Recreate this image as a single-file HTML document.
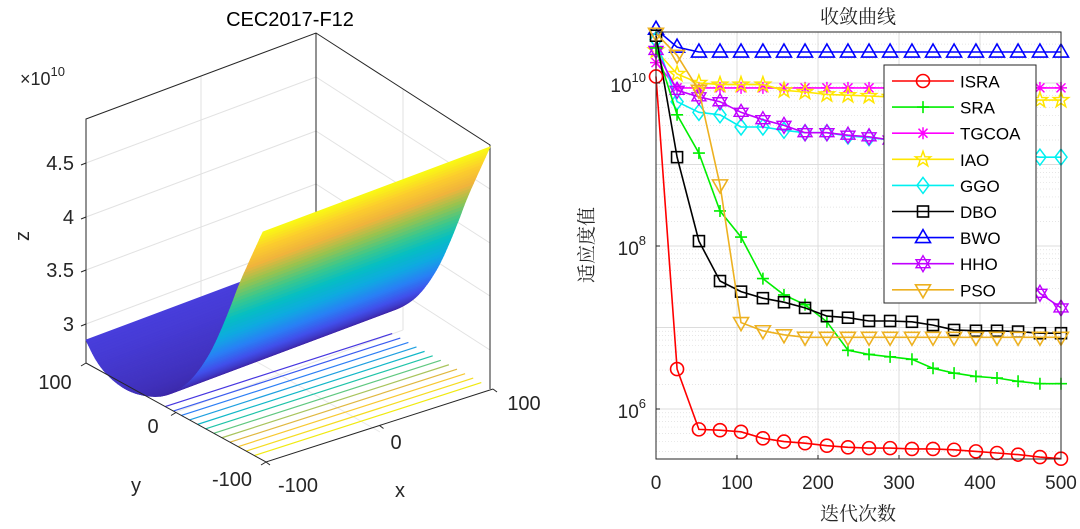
<!DOCTYPE html>
<html><head><meta charset="utf-8"><style>
body{margin:0;background:#fff;width:1080px;height:524px;overflow:hidden}
svg{font-family:"Liberation Sans","Noto Sans CJK SC",sans-serif}
</style></head><body>
<svg id="root" width="1080" height="524" viewBox="0 0 1080 524">
<g id="left"></g>
<g id="right"></g>
</svg>
<script>
const NS="http://www.w3.org/2000/svg";
function mk(parent,tag,attrs,txt){const e=document.createElementNS(NS,tag);for(const k in attrs)e.setAttribute(k,attrs[k]);if(txt!==undefined)e.textContent=txt;parent.appendChild(e);return e;}

// ===== Convergence chart data (log10 of fitness) =====
const iterations=[0,26,53,79,105,132,158,184,211,237,263,289,316,342,368,395,421,447,474,500];
const seriesNames=["ISRA","SRA","TGCOA","IAO","GGO","DBO","BWO","HHO","PSO"];
const isra=[10.08,6.49,5.75,5.74,5.72,5.64,5.60,5.58,5.55,5.53,5.52,5.52,5.51,5.51,5.50,5.48,5.46,5.44,5.41,5.39];
const sra=[10.43,9.61,9.14,8.43,8.11,7.60,7.40,7.28,7.07,6.72,6.67,6.64,6.61,6.50,6.44,6.40,6.38,6.34,6.31,6.31];
const tgcoa=[10.25,9.94,9.94,9.94,9.94,9.94,9.94,9.94,9.94,9.94,9.94,9.94,9.94,9.94,9.94,9.94,9.94,9.94,9.94,9.94];
const iao=[10.40,10.11,10.00,9.98,9.98,9.98,9.91,9.89,9.86,9.85,9.84,9.83,9.83,9.82,9.81,9.81,9.80,9.80,9.79,9.79];
const ggo=[10.53,9.77,9.64,9.61,9.46,9.46,9.42,9.39,9.39,9.35,9.33,9.30,9.27,9.24,9.21,9.18,9.15,9.12,9.09,9.09];
const dbo=[10.58,9.09,8.06,7.57,7.44,7.36,7.31,7.24,7.14,7.12,7.08,7.08,7.07,7.03,6.97,6.96,6.96,6.95,6.93,6.93];
const bwo=[10.66,10.44,10.38,10.38,10.38,10.38,10.38,10.38,10.38,10.38,10.38,10.38,10.38,10.38,10.38,10.38,10.38,10.38,10.38,10.38];
const hho=[10.40,9.91,9.83,9.77,9.64,9.55,9.48,9.39,9.39,9.36,9.34,9.30,9.20,9.00,8.70,8.40,8.10,7.80,7.42,7.24];
const pso=[10.61,10.34,9.91,8.75,7.06,6.96,6.91,6.88,6.88,6.88,6.88,6.88,6.88,6.88,6.88,6.88,6.88,6.88,6.88,6.88];
const xTicks=[0,100,200,300,400,500];
const yDecades=[6,8,10];

const R=document.getElementById('right');
const X0=656,X1=1061,Y0=32,Y1=459;
const xs=v=>X0+(v/500)*(X1-X0);
const ys=l=>83+(10-l)*81.5;
const logMin=10-(Y1-83)/81.5, logMax=10+(83-Y0)/81.5;

for(let d=5;d<=10;d++){for(let m=1;m<10;m++){const l=d+Math.log10(m);if(l<logMin||l>logMax)continue;
 const g=mk(R,'line',{x1:X0,x2:X1,y1:ys(l),y2:ys(l),stroke:m===1?'#dcdcdc':'#dedede','stroke-width':m===1?1:0.7,'stroke-dasharray':m===1?'':'1,2'});
 }}
xTicks.forEach(t=>{const g=mk(R,'line',{x1:xs(t),x2:xs(t),y1:Y0,y2:Y1,stroke:'#dcdcdc'});});

const colors={ISRA:'#ff0000',SRA:'#00ee00',TGCOA:'#ff00ff',IAO:'#ffe600',GGO:'#00f0f0',DBO:'#000000',BWO:'#0000ff',HHO:'#c000ff',PSO:'#edb120'};
const markers={ISRA:'circle',SRA:'plus',TGCOA:'asterisk',IAO:'star',GGO:'diamond',DBO:'square',BWO:'tri',HHO:'hex',PSO:'tridown'};
function marker(p,type,x,y,c){let e;
 if(type==='circle')e=mk(p,'circle',{cx:x,cy:y,r:6.5,fill:'none',stroke:c,'stroke-width':1.6});
 else if(type==='plus')e=mk(p,'path',{d:`M${x-6},${y}H${x+6}M${x},${y-6}V${y+6}`,stroke:c,'stroke-width':1.6});
 else if(type==='asterisk')e=mk(p,'path',{d:`M${x-6},${y}H${x+6}M${x},${y-6}V${y+6}M${x-4.5},${y-4.5}L${x+4.5},${y+4.5}M${x-4.5},${y+4.5}L${x+4.5},${y-4.5}`,stroke:c,'stroke-width':1.5});
 else if(type==='star'){let pts=[];for(let i=0;i<10;i++){const r=i%2?3.2:8,a=-Math.PI/2+i*Math.PI/5;pts.push((x+r*Math.cos(a)).toFixed(1)+','+(y+r*Math.sin(a)).toFixed(1));}e=mk(p,'polygon',{points:pts.join(' '),fill:'none',stroke:c,'stroke-width':1.5});}
 else if(type==='diamond')e=mk(p,'polygon',{points:`${x},${y-8} ${x+6},${y} ${x},${y+8} ${x-6},${y}`,fill:'none',stroke:c,'stroke-width':1.5});
 else if(type==='square')e=mk(p,'rect',{x:x-5.5,y:y-5.5,width:11,height:11,fill:'none',stroke:c,'stroke-width':1.6});
 else if(type==='tri')e=mk(p,'polygon',{points:`${x},${y-8} ${x+7.5},${y+5} ${x-7.5},${y+5}`,fill:'none',stroke:c,'stroke-width':1.6});
 else if(type==='tridown')e=mk(p,'polygon',{points:`${x},${y+8} ${x+7.5},${y-5} ${x-7.5},${y-5}`,fill:'none',stroke:c,'stroke-width':1.6});
 else {e=mk(p,'path',{d:`M${x},${y-8}L${x+7},${y+4}H${x-7}ZM${x},${y+8}L${x+7},${y-4}H${x-7}Z`,fill:'none',stroke:c,'stroke-width':1.4});}
 return e;}

const seriesData=[isra,sra,tgcoa,iao,ggo,dbo,bwo,hho,pso];
const order=[6,2,3,4,7,1,5,8,0];
order.forEach(si=>{const name=seriesNames[si],vals=seriesData[si],c=colors[name];
 const g=mk(R,'g',{});
 const line=mk(g,'polyline',{points:vals.map((v,i)=>xs(iterations[i]).toFixed(1)+','+ys(v).toFixed(1)).join(' '),fill:'none',stroke:c,'stroke-width':1.6});
 
 vals.forEach((v,i)=>{const m=marker(g,markers[name],xs(iterations[i]),ys(v),c);
  });
});

const box=mk(R,'rect',{x:X0,y:Y0,width:X1-X0,height:Y1-Y0,fill:'none',stroke:'#262626','stroke-width':1});

xTicks.forEach(t=>{mk(R,'line',{x1:xs(t),x2:xs(t),y1:Y1,y2:Y1-4,stroke:'#262626'});
 const tx=mk(R,'text',{x:xs(t),y:489,'text-anchor':'middle','font-size':19,fill:'#262626'},String(t));
 });
yDecades.forEach(d=>{mk(R,'line',{x1:X0,x2:X0+4,y1:ys(d),y2:ys(d),stroke:'#262626'});
 const tx=mk(R,'text',{x:X0-10,y:ys(d)+9,'text-anchor':'end','font-size':19,fill:'#262626'});
 tx.appendChild(document.createTextNode('10'));mk(tx,'tspan',{dy:-10,'font-size':13},String(d));
 });
let t=mk(R,'text',{x:858,y:23,'text-anchor':'middle','font-size':19,fill:'#262626','font-family':'"Noto Serif CJK SC",serif'},'收敛曲线');

t=mk(R,'text',{x:858,y:520,'text-anchor':'middle','font-size':19,fill:'#262626','font-family':'"Noto Serif CJK SC",serif'},'迭代次数');

t=mk(R,'text',{x:0,y:0,'text-anchor':'middle','font-size':19,fill:'#262626','font-family':'"Noto Serif CJK SC",serif',transform:'translate(593,245) rotate(-90)'},'适应度值');


const L=mk(R,'g',{});
mk(L,'rect',{x:884,y:65,width:152,height:238,fill:'#fff',stroke:'#262626','stroke-width':1});
seriesNames.forEach((n,i)=>{const y=81+i*26.1,c=colors[n];
 const eg=mk(L,'g',{});
 mk(eg,'line',{x1:892,x2:954,y1:y,y2:y,stroke:c,'stroke-width':1.6});marker(eg,markers[n],923,y,c);
 mk(eg,'text',{x:960,y:y+6.5,'font-size':17,fill:'#000'},n);});

// ===== 3D surface plot =====
const Lg=document.getElementById('left');
const gray='#262626';
t=mk(Lg,'text',{x:290,y:26,'text-anchor':'middle','font-size':20,fill:'#000'},'CEC2017-F12');

const zTickY=[324,270,217,163];const zTickLab=['3','3.5','4','4.5'];
zTickY.forEach(y=>{mk(Lg,'line',{x1:86,y1:y,x2:316,y2:y-86,stroke:'#e2e2e2'});mk(Lg,'line',{x1:316,y1:y-86,x2:490,y2:y-86+112,stroke:'#e2e2e2'});});
mk(Lg,'line',{x1:201,y1:76,x2:201,y2:330,stroke:'#e2e2e2'});
mk(Lg,'line',{x1:403,y1:89,x2:403,y2:330,stroke:'#e2e2e2'});
mk(Lg,'line',{x1:201,y1:330,x2:380,y2:432,stroke:'#e8e8e8'});
mk(Lg,'line',{x1:176,y1:412,x2:403,y2:330,stroke:'#e8e8e8'});
const be=mk(Lg,'path',{d:'M86,363V119L316,33L490,145V389M316,33V290',fill:'none',stroke:gray,'stroke-width':1});

const contourCols=['#4636e0','#3a5cf0','#2c7ff5','#1fa0e0','#12b8c8','#20c4a8','#60c880','#a8c45c','#e0b840','#f8c830','#f5dc20','#f0ea10'];
contourCols.forEach((c,i)=>{const s=0.44+i*0.045;const x=86+180*s,y=363+99*s;
 const l=mk(Lg,'line',{x1:x,y1:y,x2:x+227,y2:y-73,stroke:c,'stroke-width':1.2});
 });
const curve0=[[86,340],[95,358],[105,372],[118,384],[132,392],[148,396],[162,396],[176,391],[190,381],[203,365],[215,344],[228,314],[240,283],[252,256],[263,232]];
// Catmull-Rom subdivision for smoothness
const curve=[];
for(let i=0;i<curve0.length-1;i++){const p0=curve0[Math.max(i-1,0)],p1=curve0[i],p2=curve0[i+1],p3=curve0[Math.min(i+2,curve0.length-1)];
 for(let k=0;k<8;k++){const s=k/8,s2=s*s,s3=s2*s;
  const f=j=>0.5*((2*p1[j])+(-p0[j]+p2[j])*s+(2*p0[j]-5*p1[j]+4*p2[j]-p3[j])*s2+(-p0[j]+3*p1[j]-3*p2[j]+p3[j])*s3);
  curve.push([f(0),f(1),i]);}}
curve.push([263,232,14]);
const sh=[227,-85];
const parula=[[62,38,168],[65,80,235],[40,130,245],[15,170,225],[5,190,195],[60,200,140],[150,195,80],[240,180,60],[252,205,45],[249,250,20]];
function pcol(f){f=Math.max(0,Math.min(1,f));const p=f*(parula.length-1),i=Math.floor(p),r=p-i,a=parula[i],b=parula[Math.min(i+1,parula.length-1)];
 return 'rgb('+a.map((v,k)=>Math.round(v+(b[k]-v)*r)).join(',')+')';}
const surf=mk(Lg,'g',{});
for(let i=0;i<curve.length-1;i++){const a=curve[i],b=curve[i+1];
 let col;
 if(a[2]<6){const f=i/48;col='rgb('+Math.round(72-12*f)+','+Math.round(62-20*f)+','+Math.round(220-50*f)+')';}
 else{const yy=(a[1]+b[1])/2;col=pcol((392-yy)/160);}
 mk(surf,'polygon',{points:`${a[0].toFixed(1)},${a[1].toFixed(1)} ${b[0].toFixed(1)},${b[1].toFixed(1)} ${(b[0]+sh[0]).toFixed(1)},${(b[1]+sh[1]).toFixed(1)} ${(a[0]+sh[0]).toFixed(1)},${(a[1]+sh[1]).toFixed(1)}`,fill:col,stroke:col,'stroke-width':0.8});}
mk(Lg,'path',{d:'M86,363L266,462L493,389',fill:'none',stroke:gray,'stroke-width':1});
[[0,'100'],[0.5,'0'],[1,'-100']].forEach(([s,lab],i)=>{const x=86+180*s,y=363+99*s;mk(Lg,'line',{x1:x,y1:y,x2:x-5,y2:y+3,stroke:gray});
 const tx=mk(Lg,'text',{x:[55,153,232][i],y:[389,433,486][i],'text-anchor':'middle','font-size':20,fill:'#262626'},lab);
 });
[[0,'-100'],[0.5,'0'],[1,'100']].forEach(([s,lab],i)=>{const x=266+227*s,y=462-73*s;mk(Lg,'line',{x1:x,y1:y,x2:x+4,y2:y+3,stroke:gray});
 const tx=mk(Lg,'text',{x:[298,396,524][i],y:[492,449,410][i],'text-anchor':'middle','font-size':20,fill:'#262626'},lab);
 });
zTickY.forEach((y,i)=>{mk(Lg,'line',{x1:86,x2:81,y1:y,y2:y+2,stroke:gray});
 const tx=mk(Lg,'text',{x:74,y:y+7,'text-anchor':'end','font-size':20,fill:'#262626'},zTickLab[i]);
 });
t=mk(Lg,'text',{x:20,y:85,'font-size':18,fill:'#262626'},'×10');mk(t,'tspan',{dy:-9,'font-size':13},'10');

t=mk(Lg,'text',{x:136,y:492,'text-anchor':'middle','font-size':20,fill:'#262626'},'y');
t=mk(Lg,'text',{x:400,y:497,'text-anchor':'middle','font-size':20,fill:'#262626'},'x');
t=mk(Lg,'text',{x:0,y:0,'text-anchor':'middle','font-size':20,fill:'#262626',transform:'translate(29,236) rotate(-90)'},'z');
</script>
</body></html>
